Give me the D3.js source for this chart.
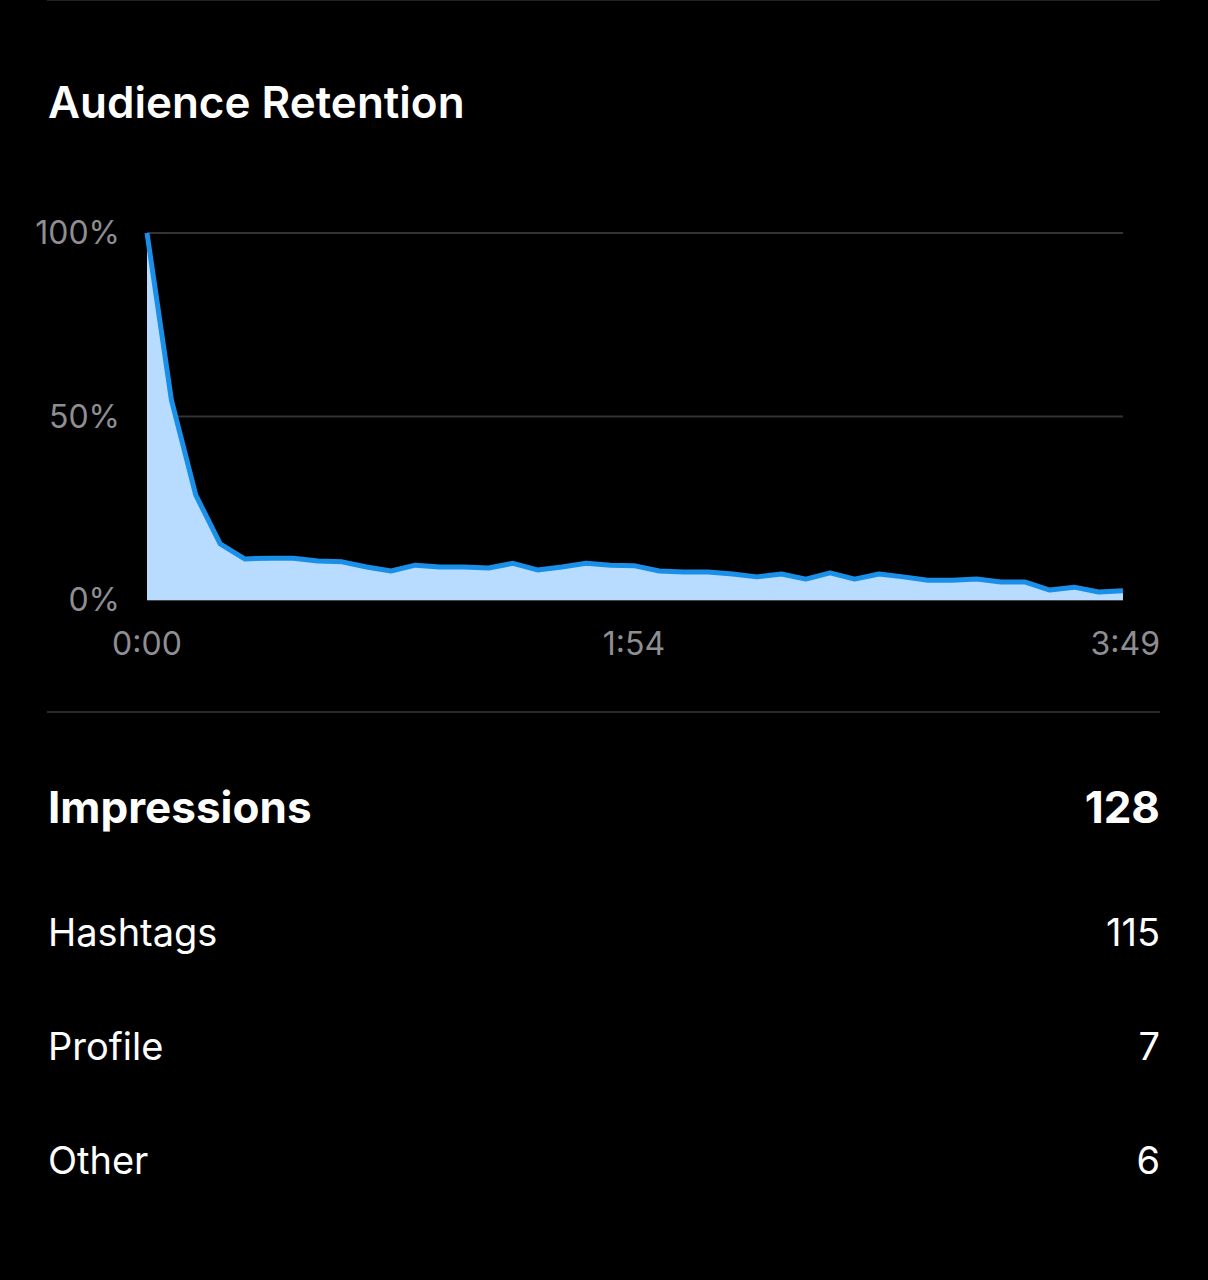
<!DOCTYPE html><html><head><meta charset="utf-8"><script src="https://cdn.jsdelivr.net/npm/d3@7"></script>
<style>body{margin:0;background:#000}svg{display:block;font-family:"Inter","Roboto",sans-serif}</style></head><body>
<svg id="c" width="1208" height="1280"></svg>
<script>
const retention=[100,54.5,28.6,15.3,11.2,11.4,11.4,10.6,10.4,9,7.9,9.5,9,9,8.7,10,8.2,9,10,9.5,9.3,7.9,7.6,7.6,7.1,6.3,7.1,5.7,7.4,5.7,7.1,6.3,5.4,5.4,5.7,4.9,4.9,2.7,3.5,2.2,2.5];
const yTicks=[0,50,100];
const xTickLabels=["0:00","1:54","3:49"];
const rowLabels=["Hashtags","Profile","Other"];
const rowValues=[115,7,6];
const impressions=128;

const svg=d3.select("#c");
svg.append("line").attr("x1",47).attr("x2",1160).attr("y1",0.5).attr("y2",0.5).attr("stroke","#222");
svg.append("text").attr("x",48).attr("y",118).attr("fill","#fff").attr("font-size",44).attr("font-weight",600).text("Audience Retention");
const x=d3.scaleLinear().domain([0,retention.length-1]).range([147,1123]);
const y=d3.scaleLinear().domain([0,100]).range([600,233]);
yTicks.forEach(t=>{
  svg.append("line").attr("x1",147).attr("x2",1123).attr("y1",y(t)).attr("y2",y(t)).attr("stroke",t===0?"#444":"#333").attr("stroke-width",2);
  svg.append("text").attr("x",120).attr("y",y(t)+11).attr("text-anchor","end").attr("fill","#8e8e93").attr("font-size",32).text(t+"%");
});
svg.append("path").datum(retention).attr("fill","#b8dcff")
  .attr("d",d3.area().x((d,i)=>x(i)).y0(y(0)).y1(d=>y(d)));
svg.append("path").datum(retention).attr("fill","none").attr("stroke","#1a8fe8").attr("stroke-width",5).attr("stroke-linejoin","round")
  .attr("d",d3.line().x((d,i)=>x(i)).y(d=>y(d)));
const xl=[[147,"middle"],[634,"middle"],[1160,"end"]];
xTickLabels.forEach((t,i)=>svg.append("text").attr("x",xl[i][0]).attr("y",655).attr("text-anchor",xl[i][1]).attr("fill","#8e8e93").attr("font-size",32).text(t));
svg.append("line").attr("x1",47).attr("x2",1160).attr("y1",712).attr("y2",712).attr("stroke","#2a2a2a").attr("stroke-width",2);
svg.append("text").attr("x",48).attr("y",823).attr("fill","#fff").attr("font-size",44).attr("font-weight",700).text("Impressions");
svg.append("text").attr("x",1160).attr("y",823).attr("text-anchor","end").attr("fill","#fff").attr("font-size",44).attr("font-weight",700).text(impressions);
rowLabels.forEach((l,i)=>{
  const yy=946+i*114;
  svg.append("text").attr("x",48).attr("y",yy).attr("fill","#fff").attr("font-size",38).text(l);
  svg.append("text").attr("x",1160).attr("y",yy).attr("text-anchor","end").attr("fill","#fff").attr("font-size",38).text(rowValues[i]);
});
</script></body></html>
